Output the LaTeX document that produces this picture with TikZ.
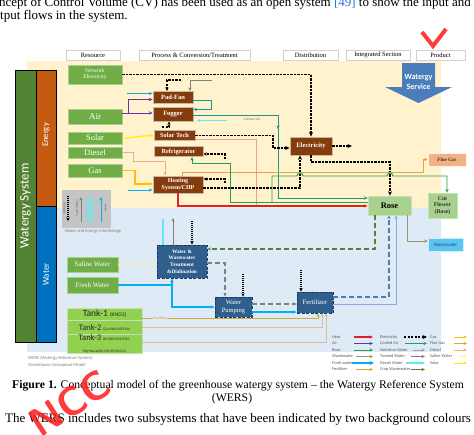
\documentclass[tikz,border=0pt]{standalone}
\usepackage{fontspec}
\setmainfont{Liberation Serif}
\newfontfamily\carlito{Carlito}
\usetikzlibrary{arrows.meta}
\newcommand\fs[2]{\fontsize{#1}{#2}\selectfont}
\definecolor{energybg}{HTML}{FFF2CC}
\definecolor{waterbg}{HTML}{DEEBF7}
\definecolor{sysgreen}{HTML}{548235}
\definecolor{energyor}{HTML}{C55A11}
\definecolor{waterbar}{HTML}{0070C0}
\definecolor{resgreen}{HTML}{70AD47}
\definecolor{resborder}{HTML}{A9D18E}
\definecolor{procbrown}{HTML}{843C0C}
\definecolor{procborder}{HTML}{C9B8A6}
\definecolor{wblue}{HTML}{305F8E}
\definecolor{wborder}{HTML}{1F3864}
\definecolor{rosegreen}{HTML}{A9D18E}
\definecolor{roseborder}{HTML}{C5E0B4}
\definecolor{tankgreen}{HTML}{92D050}
\definecolor{fluesalmon}{HTML}{F4B183}
\definecolor{wwblue}{HTML}{5BC5F2}
\definecolor{svcblue}{HTML}{4A7EBB}
\definecolor{linkgray}{HTML}{C4C4C4}
\definecolor{hdrborder}{HTML}{D0D0D0}
\definecolor{heatc}{HTML}{E0202A}
\definecolor{airc}{HTML}{7030A0}
\definecolor{cooledc}{HTML}{1A9A8C}
\definecolor{cyanin}{HTML}{1CA3DC}
\definecolor{rosec}{HTML}{22A04B}
\definecolor{gasc}{HTML}{FFC000}
\definecolor{fluec}{HTML}{E6A23C}
\definecolor{dieselc}{HTML}{E8B08E}
\definecolor{solarc}{HTML}{FFEE00}
\definecolor{heatthinc}{HTML}{E8A090}
\definecolor{treatedc}{HTML}{808080}
\definecolor{nutric}{HTML}{9E9E9E}
\definecolor{wastec}{HTML}{8C9C70}
\definecolor{freshc}{HTML}{00B0F0}
\definecolor{desaltc}{HTML}{5FEAF5}
\definecolor{salinec}{HTML}{FFF0A0}
\definecolor{fertc}{HTML}{D4A83A}
\definecolor{fert2c}{HTML}{D8C08A}
\definecolor{cropc}{HTML}{548235}
\definecolor{fertdashc}{HTML}{4A7EBB}
\definecolor{nutriblue}{HTML}{8EAADB}
\definecolor{citeblue}{HTML}{2E75D6}
\definecolor{capgray}{HTML}{7F7F7F}
\definecolor{lblgray}{HTML}{595959}
\tikzset{
  arr/.style={-{Stealth[length=3.6pt,width=3.2pt]}},
  bigarr/.style={-{Stealth[length=4.5pt,width=4pt]}},
  hdr/.style={fill=white, draw=hdrborder, line width=0.5pt, inner sep=0, minimum height=10, font=\fs{6.5}{8}},
  res/.style={fill=resgreen, draw=resborder, line width=0.9pt, text=white, inner sep=0, minimum width=54, align=center},
  tank/.style={fill=tankgreen, draw=roseborder, line width=0.8pt, text=black!85, inner sep=0, minimum width=75, align=center, font=\carlito},
  proc/.style={fill=procbrown, draw=procborder, line width=0.9pt, text=white, inner sep=0, align=center},
  wbox/.style={fill=wblue, draw=wborder, line width=0.7pt, dash pattern=on 3pt off 1.5pt, text=white, inner sep=0, align=center},
  elec/.style={black, line width=1.1pt, dash pattern=on 2.2pt off 1.3pt},
  elecdot/.style={black, line width=1.2pt, dash pattern=on 1pt off 1pt},
  heatl/.style={heatc, line width=1.1pt},
  heatthin/.style={heatthinc, line width=0.6pt},
  airl/.style={airc, line width=1pt},
  cooled/.style={cooledc, line width=0.9pt},
  cyaninl/.style={cyanin, line width=1pt},
  rosel/.style={rosec, line width=0.9pt},
  gasl/.style={gasc, line width=1.1pt},
  fluel/.style={fluec, line width=0.5pt},
  diesell/.style={dieselc, line width=0.7pt},
  solarl/.style={solarc, line width=1.2pt},
  treatedl/.style={treatedc, line width=1pt},
  treatedd/.style={treatedc, line width=1.2pt, dash pattern=on 5pt off 3pt},
  nutril/.style={nutriblue, line width=1pt},
  wastel/.style={wastec, line width=0.6pt},
  freshl/.style={freshc, line width=1.4pt},
  freshthin/.style={freshc, line width=1pt},
  desaltl/.style={desaltc, line width=1.2pt},
  salinel/.style={salinec, line width=1.3pt},
  fertl/.style={fertc, line width=0.7pt},
  fert2l/.style={fert2c, line width=0.7pt},
  cropw/.style={cropc, line width=1.3pt, dash pattern=on 5pt off 3pt},
  fertdash/.style={fertdashc, line width=1.3pt, dash pattern=on 5pt off 3pt},
  leg/.style={anchor=west, inner sep=0, font=\carlito\fs{4.3}{5}, text=lblgray},
}
\begin{document}
\begin{tikzpicture}[x=1pt,y=-1pt]
\useasboundingbox (0,0) rectangle (474,434);
\fill[white] (0,0) rectangle (474,434);

% page text
\node[anchor=base west, inner sep=0, font=\fs{13}{14}] (t1) at (-1,6) {ncept of Control Volume (CV) has been used as an open system \textcolor{citeblue}{[49]} to show the input and};
\node[anchor=base west, inner sep=0, font=\fs{13}{14}] (t2) at (0,19) {tput flows in the system.};

% headers
\node[hdr, minimum width=54] (h1) at (93,55) {Resource};
\node[hdr, minimum width=111] (h2) at (194.5,55) {Process \& Conversion/Treatment};
\node[hdr, minimum width=55] (h3) at (310.5,55) {Distribution};
\node[hdr, minimum width=64] (h4) at (378,55) {Integrated Section};
\node[hdr, minimum width=49] (h5) at (440.5,55) {Product};

% backgrounds
\fill[energybg] (27,61) rectangle (441,208);
\fill[waterbg] (27,208) rectangle (441,352);

% side bars
\node[fill=sysgreen, draw=black, line width=0.6pt, minimum width=21, minimum height=272, inner sep=0] (sys) at (25.5,206) {};
\node[rotate=90, text=white, font=\carlito\fs{13}{14}] (systxt) at (25.5,206) {Watergy System};
\node[fill=energyor, draw=black, line width=0.6pt, minimum width=20, minimum height=136, inner sep=0] (enbar) at (46,138) {};
\node[rotate=90, text=white, font=\carlito\fs{8.6}{9}] (entxt) at (46,135) {Energy};
\node[fill=waterbar, draw=black, line width=0.6pt, minimum width=20, minimum height=136, inner sep=0] (wabar) at (46,274) {};
\node[rotate=90, text=white, font=\carlito\fs{9}{10}] (watxt) at (46,274.5) {Water};

% watergy service arrow
\fill[svcblue] (402,63) -- (435,63) -- (435,87) -- (452,87) -- (418.5,103) -- (385,87) -- (402,87) -- cycle;
\node[text=white, font=\carlito\bfseries\fs{8}{10.5}, align=center] (svc) at (418.5,82) {Watergy\\Service};

% resource nodes
\node[res, minimum height=19, font=\fs{5.6}{6.3}] (ne) at (95,74.5) {Network\\Electricity};
\node[res, minimum height=15, font=\fs{9}{10}] (air) at (95,116.5) {Air};
\node[res, minimum height=12, font=\fs{8.5}{9}] (solar) at (95,138) {Solar};
\node[res, minimum height=11, font=\fs{8.5}{9}] (diesel) at (95,152.5) {Diesel};
\node[res, minimum height=13, font=\fs{8.5}{9}] (gas) at (95,170.5) {Gas};
\node[res, minimum width=51, minimum height=15, font=\fs{7}{8}] (saline) at (92.5,264.5) {Saline Water};
\node[res, minimum width=51, minimum height=16, font=\fs{7}{8}] (fresh) at (92.5,285) {Fresh Water};
\node[tank, minimum height=12] (tank1) at (104.5,314) {\fs{9.5}{10}Tank-1 \fs{5.5}{6}(KNO3)};
\node[tank, minimum height=15] (tank2) at (104.5,327.5) {\fs{8.5}{9}Tank-2 \fs{3.8}{4}(Ca-NH4-NO3-Fe)};
\node[tank, minimum height=18] (tank3) at (104.5,344) {\fs{8.5}{8}Tank-3 \fs{3.8}{4}(K-NO3-SO4-PO4-\\\fs{3.8}{5}Mg+Ka lat(Zn-Mn-B-Mo-Cu)};

% process nodes
\node[proc, minimum width=40, minimum height=12, font=\bfseries\fs{6.5}{7}] (padfan) at (173,97.5) {Pad-Fan};
\node[proc, minimum width=40, minimum height=14, font=\bfseries\fs{6.5}{7}] (fogger) at (173,114) {Fogger};
\node[proc, minimum width=41, minimum height=10, font=\bfseries\fs{6.3}{7}] (soltech) at (174.5,135.5) {Solar Tech};
\node[proc, minimum width=49, minimum height=10, font=\bfseries\fs{6.3}{7}] (refrig) at (178.5,151.5) {Refrigerator};
\node[proc, minimum width=50, minimum height=17, font=\bfseries\fs{6}{7}] (heating) at (178,184.5) {Heating\\System/CHP};
\node[proc, minimum width=42, minimum height=18, font=\bfseries\fs{6.6}{7}] (elec) at (311,146) {Electricity};

% water nodes
\node[wbox, minimum width=50, minimum height=33, font=\bfseries\fs{5.3}{6.6}] (wwt) at (182,261.5) {Water \&\\Wastewater\\Treatment\\\&Dialination};
\node[wbox, minimum width=37, minimum height=20, font=\fs{6.5}{7.2}] (wpump) at (233.5,307) {Water\\Pumping};
\node[wbox, minimum width=36, minimum height=21, font=\fs{6.8}{7}] (fert) at (315,302.5) {Fertilizer};

% integrated and products
\node[fill=rosegreen, draw=roseborder, line width=0.8pt, minimum width=43, minimum height=19, inner sep=0, font=\bfseries\fs{8.5}{9}] (rose) at (389.5,205.5) {Rose};
\node[fill=rosegreen, draw=roseborder, line width=0.8pt, minimum width=29, minimum height=25, inner sep=0, align=center, text=black!80, font=\bfseries\fs{5.8}{6.4}] (cut) at (442.5,205.5) {Cut\\Flower\\(Rose)};
\node[fill=fluesalmon, draw=white!85!fluesalmon, line width=0.6pt, minimum width=38, minimum height=13, inner sep=0, text=black!80, font=\bfseries\fs{5}{6}] (flue) at (447,159.5) {Flue Gas};
\node[fill=wwblue, draw=white!70!wwblue, line width=0.6pt, minimum width=35, minimum height=13, inner sep=0, text=wborder, font=\fs{5}{6}] (ww) at (445.5,244.5) {Wastewater};

% interlinkage box
\node[fill=linkgray, minimum width=49, minimum height=38, inner sep=0] (link) at (86.5,209) {};
\draw[elecdot, arr] (68,196) -- (68,221);
\draw[treatedl, arr] (81,222) -- (81,197);
\draw[desaltl, arr] (88,222) -- (88,197);
\draw[desaltl, arr] (92,222) -- (92,197);
\draw[freshthin, arr] (101,222) -- (101,197);
\node[rotate=90, inner sep=0, font=\carlito\fs{2.8}{3}, text=lblgray] (l1) at (64.5,208) {Electricity};
\node[rotate=90, inner sep=0, font=\carlito\fs{2.8}{3}, text=lblgray] (l2) at (77,208) {Treated Water};
\node[rotate=90, inner sep=0, font=\carlito\fs{2.8}{3}, text=lblgray] (l3) at (105.5,208) {Water};
\node[inner sep=0, font=\carlito\fs{4.6}{5}, text=capgray] (linklbl) at (93,231) {Water and Energy Interlinkage};

% ---------- energy connectors ----------
\draw[elec, bigarr] (ne.east) -- (311,74.5) -- (elec.north);
\draw[elec, arr] (181,80) -- (167,80) -- (padfan.north -| 167,0);
\draw[treatedl, arr] (212,80) -- (190,80) -- (padfan.north -| 190,0);
\draw[cyaninl, arr] (127,93.5) -- (padfan.west |- 0,93.5);
\draw[airl, arr] (air.east |- 0,113) -- (fogger.west |- 0,113);
\draw[airl, arr] (128,113) -- (128,99.5) -- (padfan.west |- 0,99.5);
\draw[cooled, arr] (padfan.east |- 0,100) -- (211,100) -- (211,109.5) -- (fogger.east |- 0,109.5);
\draw[cooled, arr] (fogger.east |- 0,115.5) -- (278,115.5) -- (278,198) -- (rose.west |- 0,198);
\draw[cooled, arr] (278,115.5) -- (278,129);
\draw[desaltl, arr, line width=1.8pt] (227,120.5) -- (197,120.5);
\node[inner sep=0, font=\carlito\fs{3.6}{4}, text=svcblue] (contact) at (252,119) {Contact Air};
\draw[elec, arr] (162,127) -- (169,127) -- (fogger.south -| 169,0);
\draw[solarl, arr] (solar.east) to[out=0, in=180] (soltech.west);
\draw[elec, bigarr] (soltech.east) -- (273,135.5) -- (273,148) -- (elec.west |- 0,148);
\draw[heatthin] (soltech.east |- 0,139) -- (256,139) -- (256,206);
\draw[diesell, arr] (diesel.east) -- (133,152.5) -- (133,161) -- (165,161) -- (heating.north -| 165,0);
\draw[elec, arr] (225,159) -- (225,154) -- (refrig.east |- 0,154);
\draw[elec, arr] (225,183) -- (225,179) -- (heating.east |- 0,179);
\draw[elec, bigarr] (heating.east |- 0,188) -- (300,188) -- (elec.south -| 300,0);
\draw[elec, bigarr] (elec.east) -- (352,146);
\draw[elec, bigarr] (elec.south) -- (311,162) -- (390,162) -- (rose.north -| 390,0);
\draw[fluel, arr] (heating.north -| 182,0) -- (182,172) -- (423,172) -- (423,159.5) -- (flue.west);
\draw[gasl, arr] (gas.east) -- (135,170.5) -- (135,184) -- (heating.west |- 0,184);
\draw[freshthin, arr] (128,190) -- (heating.west |- 0,190);
\draw[heatl, arr] (heating.south) -- (178,206) -- (rose.west |- 0,206);
\draw[rosel, arr] (rose.west |- 0,202) -- (230,202) -- (230,163) -- (192,163) -- (refrig.south -| 192,0);
\draw[rosel, arr] (272,202) -- (272,176) -- (297,176) arc[start angle=180, end angle=360, radius=3] -- (387,176) arc[start angle=180, end angle=360, radius=3] -- (447,176) -- (cut.north -| 447,0);

% ---------- water connectors ----------
\draw[salinel, arr] (saline.east) -- (wwt.west |- saline.east);
\draw[freshl, arr] (fresh.east) -- (172,285) -- (wwt.south -| 172,0);
\draw[freshl, arr] (172,285) -- (172,307) -- (wpump.west);
\draw[treatedd, arr] (wwt.east |- 0,263) -- (225,263) -- (wpump.north -| 225,0);
\draw[desaltl, arr] (wwt.north -| 163,0) -- (163,218);
\draw[treatedl, arr] (wwt.north -| 173,0) -- (173,218);
\draw[elecdot, arr] (192,221) -- (wwt.north -| 192,0);
\draw[cropw, arr] (rose.south -| 375,0) -- (375,249) -- (wwt.east |- 0,249);
\draw[wastel, arr] (rose.south -| 407,0) -- (407,241) -- (ww.west |- 0,241);
\draw[fertdash, arr] (fert.east |- 0,297) -- (389,297) -- (rose.south -| 389,0);
\draw[nutril, arr] (fert.east |- 0,304) -- (396,304) -- (rose.south -| 396,0);
\draw[treatedd, arr] (wpump.east |- 0,304) -- (fert.west |- 0,304);
\draw[freshl, arr] (wpump.east |- 0,312) -- (fert.west |- 0,312);
\draw[elecdot, arr] (243,274) -- (wpump.north -| 243,0);
\draw[elecdot, arr] (301,270) -- (fert.north -| 301,0);
\draw[fertl, arr] (tank1.east |- 0,318.5) -- (318,318.5) -- (fert.south -| 318,0);
\draw[fert2l, arr] (tank2.east) -- (322,327.5) -- (fert.south -| 322,0);
\draw[fert2l, arr] (tank3.east |- 0,342) -- (326,342) -- (fert.south -| 326,0);
\node[fill=waterbg, inner sep=0.3pt, font=\carlito\fs{4}{5}, text=fertc] (fertlbl) at (160,318.5) {Fertilize};

% WERS note
\node[anchor=west, inner sep=0, align=left, font=\carlito\itshape\fs{4.6}{6.5}, text=capgray] (wers) at (28,361.5) {WERS (Watergy Reference System)\\Greenhouse Conceptual Model};

% legend
\node[leg] (lg11) at (332,337) {Heat};
\node[leg] (lg21) at (332,343.5) {Air};
\node[leg] (lg31) at (332,350) {Rose};
\node[leg] (lg41) at (332,356.5) {Wastewater};
\node[leg] (lg51) at (332,363) {Fresh water};
\node[leg] (lg61) at (332,369.5) {Fertilizer};
\node[leg] (lg12) at (380,337) {Electricity};
\node[leg] (lg22) at (380,343.5) {Cooled Air};
\node[leg] (lg32) at (380,350) {Nutrition Water};
\node[leg] (lg42) at (380,356.5) {Treated Water};
\node[leg] (lg52) at (380,363) {Desalt Water};
\node[leg] (lg62) at (380,369.5) {Crop Wastewater};
\node[leg] (lg13) at (430,337) {Gas};
\node[leg] (lg23) at (430,343.5) {Flue Gas};
\node[leg] (lg33) at (430,350) {Diesel};
\node[leg] (lg43) at (430,356.5) {Saline Water};
\node[leg] (lg53) at (430,363) {Solar};
\draw[heatl, arr] (354,337) -- (373,337);
\draw[airl, arr] (354,343.5) -- (373,343.5);
\draw[rosel, arr] (354,350) -- (373,350);
\draw[wastel, arr] (356,356.5) -- (373,356.5);
\draw[freshl, bigarr, line width=1.8pt] (352,363) -- (374,363);
\draw[fertl, arr] (356,369.5) -- (373,369.5);
\draw[elec, bigarr, line width=1.5pt] (404,337) -- (427,337);
\draw[cooled, arr] (405,343.5) -- (427,343.5);
\draw[nutric, line width=0.5pt, arr] (413,350) -- (425,350);
\draw[treatedl, arr] (411,356.5) -- (425,356.5);
\draw[desaltl, arr] (406,363) -- (425,363);
\draw[cropc, line width=1.4pt, arr] (411,369.5) -- (425,369.5);
\draw[gasl, line width=0.6pt, arr] (454,337) -- (467,337);
\draw[fluel, arr] (454,343.5) -- (467,343.5);
\draw[diesell, line width=0.5pt, arr] (454,350) -- (467,350);
\draw[salinel, line width=0.8pt, arr] (460,356.5) -- (467,356.5);
\draw[solarl, line width=0.8pt, arr] (454,363) -- (467,363);

% caption and body text
\node[anchor=base, inner sep=0, font=\fs{11.7}{13}] (cap1) at (238,388.5) {\textbf{Figure 1.} Conceptual model of the greenhouse watergy system – the Watergy Reference System};
\node[anchor=base, inner sep=0, font=\fs{11.7}{13}] (cap2) at (232,401.5) {(WERS)};
\node[anchor=base west, inner sep=0, font=\fs{13}{14}] (body) at (5,422) {The WERS includes two subsystems that have been indicated by two background colours};

% watermark
\node[rotate=33, inner sep=0, text=red!90!white, opacity=0.85, font=\sffamily\bfseries\fs{40}{40}] (wm) at (70,403) {NCC};
\draw[red!90!white, opacity=0.85, line width=4pt] (422,32) -- (433,46) -- (446,29);
\end{tikzpicture}
\end{document}
